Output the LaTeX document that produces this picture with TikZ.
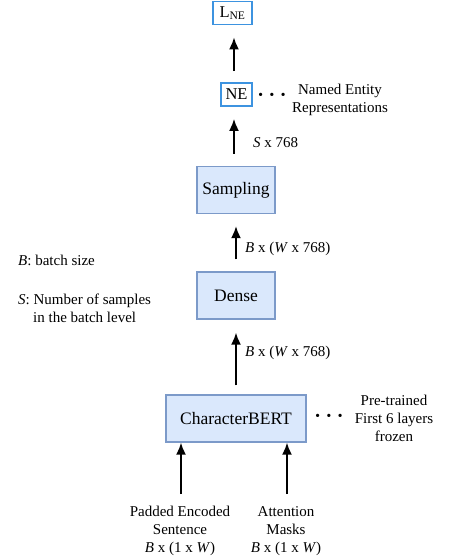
\documentclass[tikz,border=0pt]{standalone}
\usepackage{fontspec}
\setmainfont{Liberation Serif}
\usepackage{tikz}
\usetikzlibrary{arrows.meta}
\definecolor{boxfill}{HTML}{DAE8FC}
\definecolor{boxline}{HTML}{7C9AC9}
\definecolor{outline}{HTML}{3D93E0}
\newcommand{\dotrow}{{\bfseries\fontsize{20}{20}\selectfont ·\hspace{4.5pt}·\hspace{4.5pt}·}}
\tikzset{
  blockbox/.style={draw=boxline, fill=boxfill, line width=1.3pt, minimum height=47pt, inner sep=0pt, font=\fontsize{17.5}{20}\selectfont},
  outbox/.style={draw=outline, fill=white, line width=1.8pt, minimum height=23pt, inner sep=3pt, font=\fontsize{16.5}{19}\selectfont},
  lbl/.style={font=\fontsize{15}{18}\selectfont, inner sep=0pt},
  flow/.style={-{Latex[length=12pt,width=10pt]}, line width=1.8pt, black}
}
\begin{document}
\begin{tikzpicture}[x=1pt,y=-1pt]
\useasboundingbox (0,0) rectangle (474,558);
%%% the model blocks, bottom to top
\node[blockbox, minimum width=140pt] (bert) at (236,418.5) {CharacterBERT};
\node[blockbox, minimum width=78pt] (dense) at (236,295.5) {Dense};
\node[blockbox, minimum width=78pt] (samp) at (236,190) {Sampling};
\node[outbox, minimum width=31pt] (ne) at (236.5,94.5) {NE};
\node[outbox, minimum width=39pt] (loss) at (232.5,13) {L\textsubscript{NE}};
%
%%% inputs
\node[lbl, align=center] (sent) at (180,531) {Padded Encoded\\Sentence\\\textit{B} x (1 x \textit{W})};
\node[lbl, align=center] (mask) at (286,531) {Attention\\Masks\\\textit{B} x (1 x \textit{W})};
%
%%% side notes
\node[lbl, align=center] (bertnote) at (394,418) {Pre-trained\\First 6 layers\\frozen};
\node[lbl] (bertdots) at (329,418) {\dotrow};
\node[lbl, align=center] (nenote) at (340,100) {Named Entity\\Representations};
\node[lbl] (nedots) at (272,97) {\dotrow};
\node[lbl, anchor=west] (bnote) at (18,260) {\textit{B}: batch size};
\node[lbl, align=center, anchor=west] (snote) at (18,308) {\textit{S}: Number of samples\\in the batch level};
%
%%% connectors
\draw[flow, shorten <=12pt] (sent.north -| 181,0) -- (bert.south -| 181,0);
\draw[flow, shorten <=12pt] (mask.north -| 287,0) -- (bert.south -| 287,0);
\draw[flow, shorten <=9pt, shorten >=13pt] (bert.north -| dense) -- (dense.south);
\node[lbl, anchor=west] (dimb) at (245,353) {\textit{B} x (\textit{W} x 768)};
\draw[flow, shorten <=12pt, shorten >=12pt] (dense.north) -- (samp.south);
\node[lbl, anchor=west] (dima) at (245,249) {\textit{B} x (\textit{W} x 768)};
\draw[flow, shorten <=12pt, shorten >=12pt] (samp.north -| 234,0) -- (ne.south -| 234,0);
\node[lbl, anchor=west] (dims) at (253,143) {\textit{S} x 768};
\draw[flow, shorten <=11pt, shorten >=12pt] (ne.north -| 234,0) -- (loss.south -| 234,0);
\end{tikzpicture}
\end{document}
